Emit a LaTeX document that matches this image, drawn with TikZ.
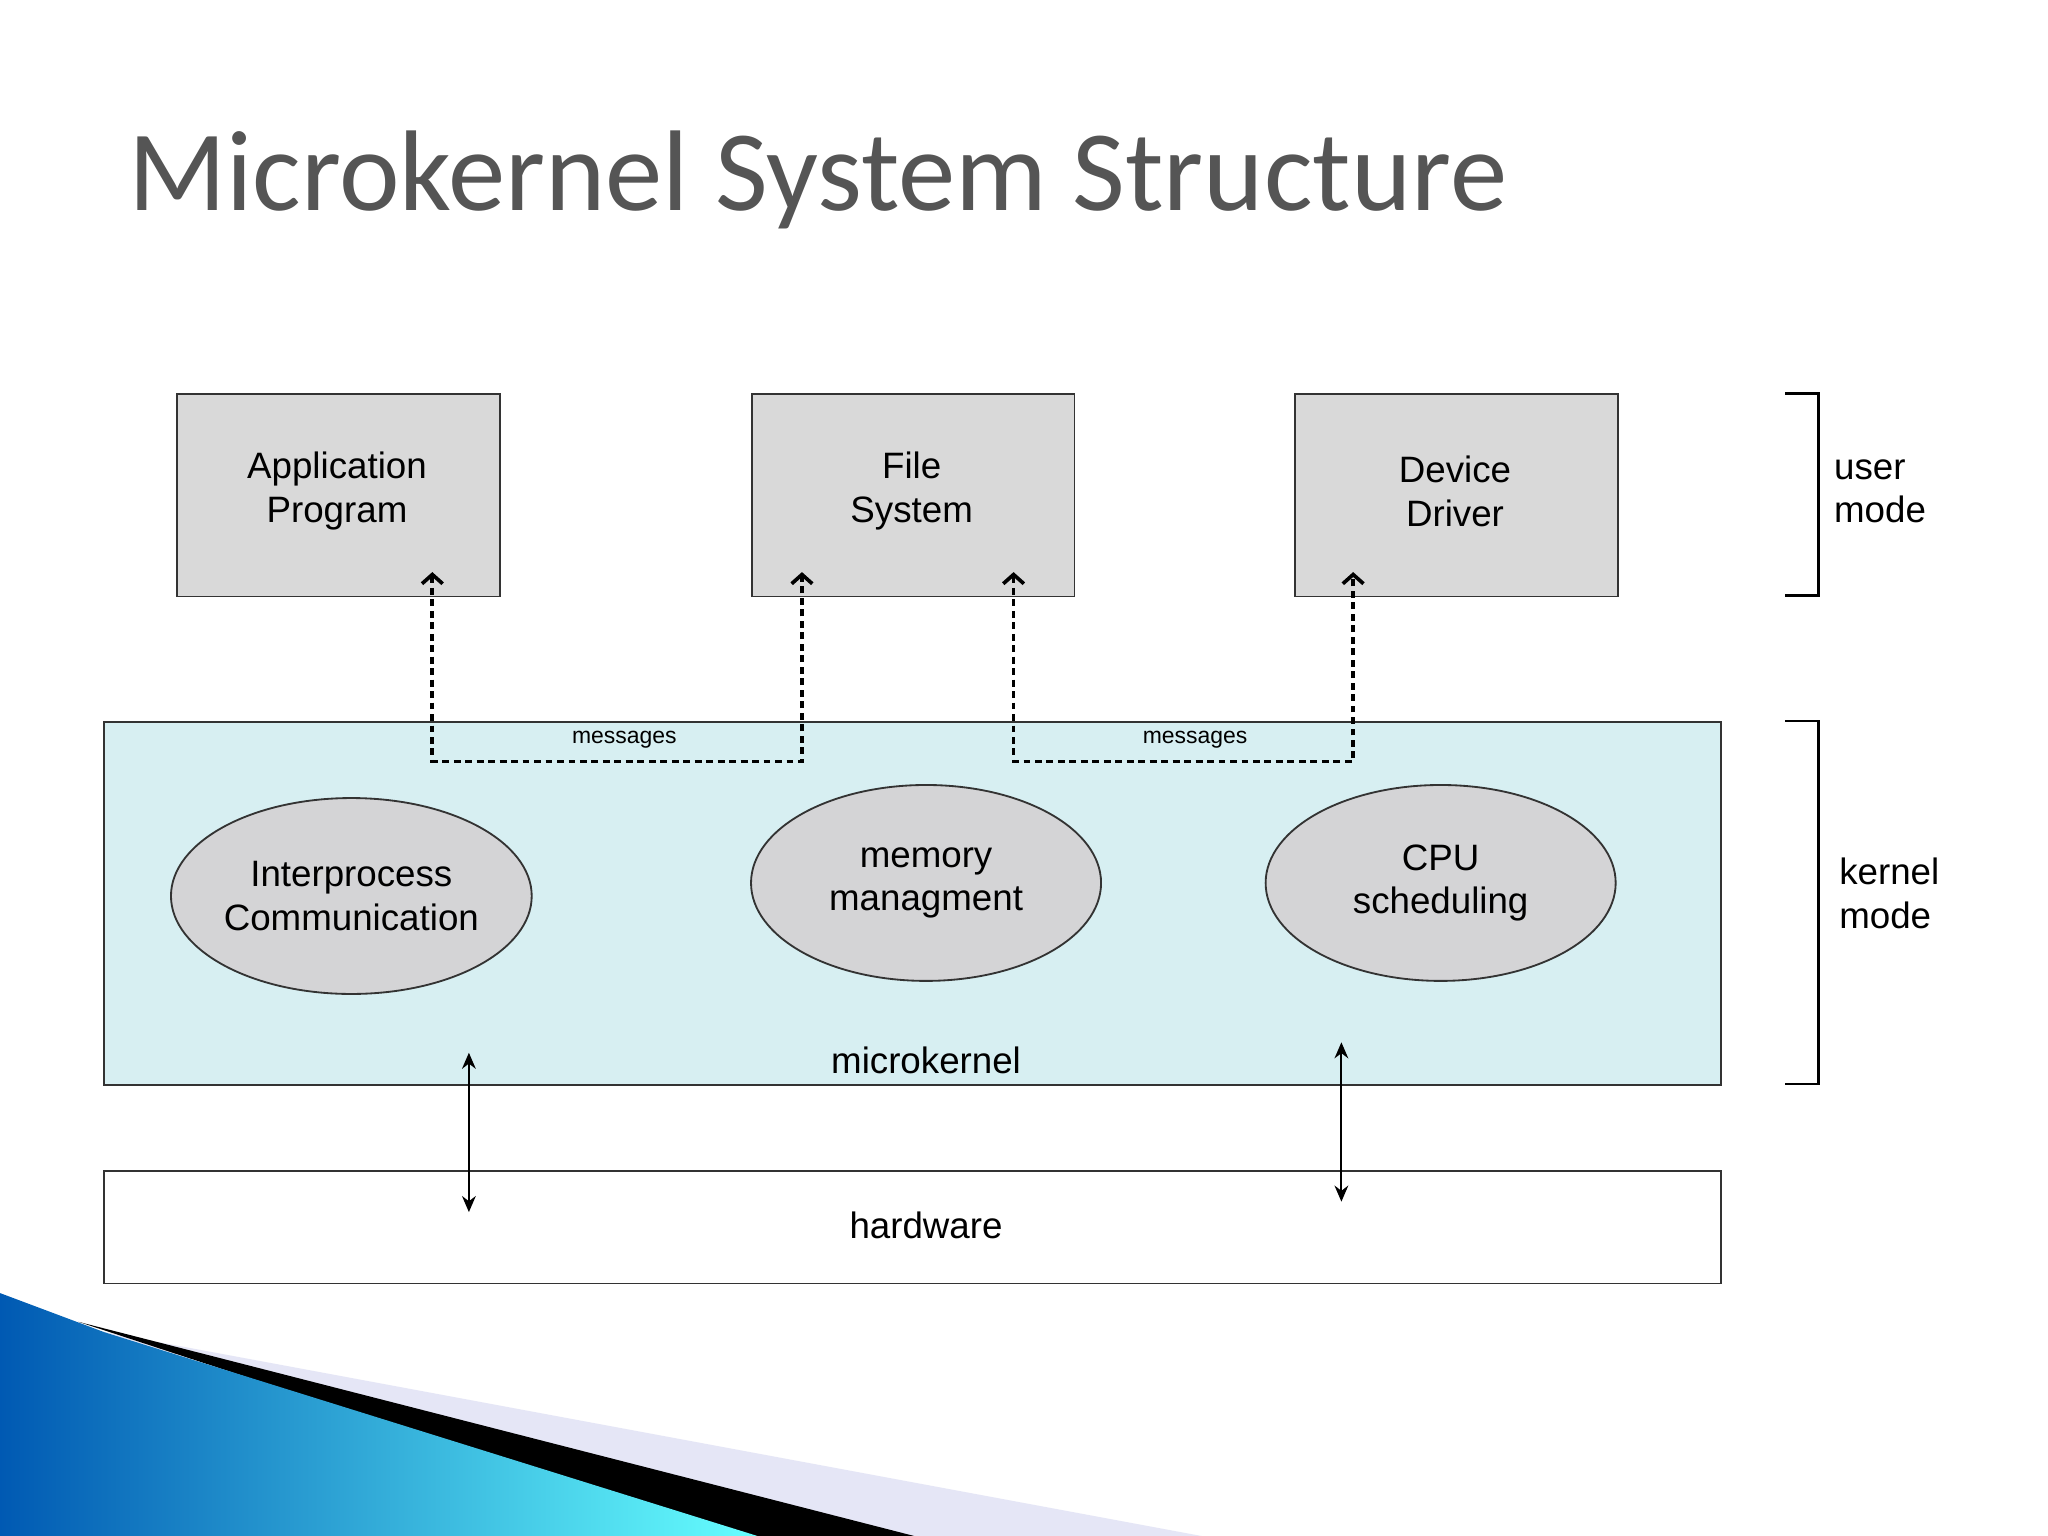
\documentclass[tikz,border=0pt]{standalone}
\usepackage{fontspec}
\setmainfont{Liberation Sans}
\newfontfamily\titlefont{Carlito}
\usetikzlibrary{arrows.meta,shapes.geometric}
\definecolor{boxgray}{HTML}{D9D9D9}
\definecolor{ellgray}{HTML}{D4D4D6}
\definecolor{kern}{HTML}{D7EFF2}
\definecolor{titlegray}{HTML}{555555}
\begin{document}
\begin{tikzpicture}[x=0.02cm,y=-0.02cm,
  box/.style={draw=black!80,fill=boxgray,line width=0.8pt},
  ell/.style={draw=black!80,fill=ellgray,ellipse,inner sep=0pt,line width=0.8pt,font=\fontsize{16}{19}\selectfont,align=center},
  txt/.style={align=center,font=\fontsize{16}{19}\selectfont},
  lbl/.style={font=\fontsize{16}{19}\selectfont,align=left,anchor=west},
  msg/.style={draw,dash pattern=on 3pt off 2pt,line width=1.6pt,{Straight Barb[length=4pt,width=9pt,line width=1.6pt]}-{Straight Barb[length=4pt,width=9pt,line width=1.6pt]}},
  dbl/.style={{Stealth[length=7pt,width=6pt]}-{Stealth[length=7pt,width=6pt]},line width=0.8pt}]
\useasboundingbox (0,0) rectangle (1568,1176);
\fill[white] (0,0) rectangle (1568,1176);
% decoration
\fill[cyan!30!blue!10] (0,1005) -- (920,1176) -- (0,1176) -- cycle;
\fill[black] (60,1012) -- (700,1176) -- (560,1176) -- cycle;
\shade[left color=cyan!50!blue!70!black,right color=cyan!60] (0,990) -- (80,1020) -- (580,1176) -- (0,1176) -- cycle;
% title
\node[anchor=west,font=\titlefont\fontsize{50}{60}\selectfont,text=titlegray] (title) at (92,138) {Microkernel System Structure};
% kernel & hardware
\node[draw=black!80,fill=kern,line width=0.8pt,minimum width=1238*0.02cm,minimum height=278*0.02cm,anchor=north west] (mk) at (79,552) {};
\node[txt] (mklbl) at (709,812) {microkernel};
\node[draw=black!80,fill=white,line width=0.8pt,minimum width=1238*0.02cm,minimum height=86*0.02cm,anchor=north west] (hw) at (79,896) {};
\node[txt] (hwlbl) at (709,938) {hardware};
% boxes
\node[box,minimum width=247*0.02cm,minimum height=155*0.02cm,anchor=north west] (app) at (135,301) {};
\node[box,minimum width=247*0.02cm,minimum height=155*0.02cm,anchor=north west] (fs) at (575,301) {};
\node[box,minimum width=247*0.02cm,minimum height=155*0.02cm,anchor=north west] (dd) at (991,301) {};
\node[txt] (appt) at (258,376) {Application\\Program};
\node[txt] (fst) at (698,376) {File\\System};
\node[txt] (ddt) at (1114,376) {Device\\Driver};
% ellipses
\node[ell,minimum width=268*0.02cm,minimum height=150*0.02cm] (ipc) at (269,686) {Interprocess\\Communication};
\node[ell,minimum width=268*0.02cm,minimum height=150*0.02cm] (mem) at (709,676) {memory\\managment};
\node[ell,minimum width=268*0.02cm,minimum height=150*0.02cm] (cpu) at (1103,676) {CPU\\scheduling};
% messages
\coordinate (a1) at (331,438); \coordinate (a2) at (614,438);
\coordinate (b1) at (776,438); \coordinate (b2) at (1036,438);
\draw[msg] (a1) -- (331,583) -- (614,583) -- (a2);
\draw[msg] (b1) -- (776,583) -- (1036,583) -- (b2);
\node[font=\fontsize{10}{12}\selectfont] (m1) at (478,566) {messages};
\node[font=\fontsize{10}{12}\selectfont] (m2) at (915,566) {messages};
% double arrows
\coordinate (d1t) at (359,806); \coordinate (d1b) at (359,928);
\coordinate (d2t) at (1027,798); \coordinate (d2b) at (1027,920);
\draw[dbl] (d1t) -- (d1b);
\draw[dbl] (d2t) -- (d2b);
% brackets
\draw[line width=1.2pt] (1367,301) -- (1392,301) -- (1392,456) -- (1367,456);
\draw[line width=1.2pt] (1367,552) -- (1392,552) -- (1392,830) -- (1367,830);
\node[lbl] (um) at (1398,376) {user\\mode};
\node[lbl] (km) at (1402,684) {kernel\\mode};
\end{tikzpicture}
\end{document}
